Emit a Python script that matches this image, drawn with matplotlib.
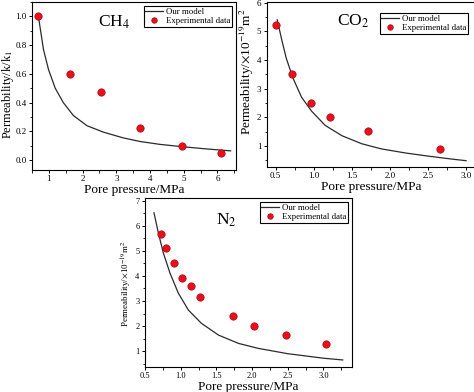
import numpy as np
import matplotlib
matplotlib.use('Agg')
import matplotlib.pyplot as plt
from matplotlib.ticker import MultipleLocator, FormatStrFormatter

plt.rcParams['font.family'] = ['Liberation Serif', 'DejaVu Serif']
plt.rcParams['mathtext.fontset'] = 'stix'

# CH4 (normalised permeability)
ch4_p = [0.68, 1.63, 2.55, 3.71, 4.96, 6.11]
ch4_k = [1.0, 0.60, 0.473, 0.225, 0.10, 0.049]
ch4_model_p = [0.69, 0.84, 0.99, 1.19, 1.43, 1.73, 2.13, 2.62, 3.21, 3.71, 4.3, 5.0, 5.7, 6.39]
ch4_model_k = [1.0, 0.77, 0.63, 0.50, 0.40, 0.31, 0.24, 0.195, 0.155, 0.13, 0.11, 0.093, 0.078, 0.065]

# CO2
co2_p = [0.50, 0.71, 0.97, 1.21, 1.71, 2.66]
co2_k = [5.22, 3.52, 2.49, 2.0, 1.53, 0.91]
co2_model_p = [0.52, 0.58, 0.64, 0.73, 0.84, 0.97, 1.15, 1.37, 1.63, 1.89, 2.2, 2.5, 2.8, 3.0]
co2_model_k = [5.40, 4.70, 4.05, 3.35, 2.70, 2.22, 1.72, 1.36, 1.08, 0.90, 0.76, 0.65, 0.55, 0.49]

# N2
n2_p = [0.73, 0.80, 0.90, 1.02, 1.15, 1.27, 1.73, 2.03, 2.47, 3.03]
n2_k = [5.68, 5.12, 4.52, 3.93, 3.61, 3.15, 2.41, 1.99, 1.65, 1.29]
n2_model_p = [0.626, 0.687, 0.757, 0.85, 0.967, 1.107, 1.29, 1.53, 1.81, 2.09, 2.5, 3.0, 3.27]
n2_model_k = [6.51, 5.71, 4.91, 4.11, 3.31, 2.64, 2.11, 1.64, 1.31, 1.11, 0.90, 0.72, 0.65]

W, H = 474, 392
fig = plt.figure(figsize=(W / 100, H / 100), dpi=100)


def make_ax(x0, y0, x1, y1):
    return fig.add_axes([x0 / W, 1 - y1 / H, (x1 - x0) / W, (y1 - y0) / H])


def style(ax, gas, gx, gy, ylabel, ylab_size, ylab_xy, tick_size=6.5):
    ax.text(gx, gy, gas, transform=ax.transAxes, fontsize=12.5, ha='center', va='center')
    ax.set_xlabel('Pore pressure/MPa', fontsize=9.5, labelpad=0.5)
    ax.set_ylabel(ylabel, fontsize=ylab_size)
    ax.yaxis.set_label_coords(*ylab_xy)
    ax.tick_params(labelsize=tick_size, length=2.5, width=0.7, pad=1.5)
    ax.tick_params(axis='x', pad=1)
    ax.tick_params(which='minor', length=1.8, width=0.6)
    for s in ax.spines.values():
        s.set_linewidth(0.8)
    leg = ax.legend(loc='upper right', fontsize=6.3, frameon=True, fancybox=False,
                    edgecolor='black', handlelength=2.0, handletextpad=0.3,
                    borderpad=0.2, labelspacing=0.1, borderaxespad=0.5,
                    markerscale=0.75, framealpha=1)
    leg.get_frame().set_linewidth(0.8)
    return leg


def plot_gas(ax, mp, mk, p, k):
    ax.plot(mp, mk, color='#2b2b2b', lw=0.9, label='Our model')
    ax.plot(p, k, 'o', color='#e8101a', mec='#b00010', mew=0.5, ms=5.3,
            label='Experimental data', zorder=3)


# panel 1
ax1 = make_ax(32, 2, 236, 170)
plot_gas(ax1, ch4_model_p, ch4_model_k, ch4_p, ch4_k)
ax1.set_xlim(0.5, 6.55)
ax1.set_ylim(-0.068, 1.1)
ax1.xaxis.set_major_locator(MultipleLocator(1))
ax1.xaxis.set_minor_locator(MultipleLocator(0.5))
ax1.yaxis.set_major_locator(MultipleLocator(0.2))
ax1.yaxis.set_minor_locator(MultipleLocator(0.1))
ax1.yaxis.set_major_formatter(FormatStrFormatter('%.1f'))
ax1.tick_params(axis='y', pad=1)
style(ax1, 'CH$_4$', 0.40, 0.88, 'Permeability/k/k$_1$', 9, (-0.078, 0.45))

# panel 2
ax2 = make_ax(267, 2, 476, 167)
plot_gas(ax2, co2_model_p, co2_model_k, co2_p, co2_k)
ax2.set_xlim(0.386, 3.13)
ax2.set_ylim(0.27, 6.02)
ax2.xaxis.set_major_locator(MultipleLocator(0.5))
ax2.xaxis.set_minor_locator(MultipleLocator(0.25))
ax2.yaxis.set_major_locator(MultipleLocator(1))
ax2.yaxis.set_minor_locator(MultipleLocator(0.5))
leg2 = style(ax2, 'CO$_2$', 0.41, 0.88, r'Permeability/$\times$10$^{-19}$m$^2$',
             9.5, (-0.055, 0.58))
leg2.set_bbox_to_anchor((472 / W, 1 - 9 / H), transform=fig.transFigure)

# panel 3
ax3 = make_ax(145, 198, 352, 367)
plot_gas(ax3, n2_model_p, n2_model_k, n2_p, n2_k)
ax3.set_xlim(0.5, 3.4)
ax3.set_ylim(0.37, 7.1)
ax3.xaxis.set_major_locator(MultipleLocator(0.5))
ax3.xaxis.set_minor_locator(MultipleLocator(0.25))
ax3.yaxis.set_major_locator(MultipleLocator(1))
ax3.yaxis.set_minor_locator(MultipleLocator(0.5))
style(ax3, 'N$_2$', 0.395, 0.87, r'Permeability/$\times$10$^{-19}$m$^2$',
      6.5, (-0.055, 0.49), tick_size=6)

fig.savefig('out.png', dpi=100)
